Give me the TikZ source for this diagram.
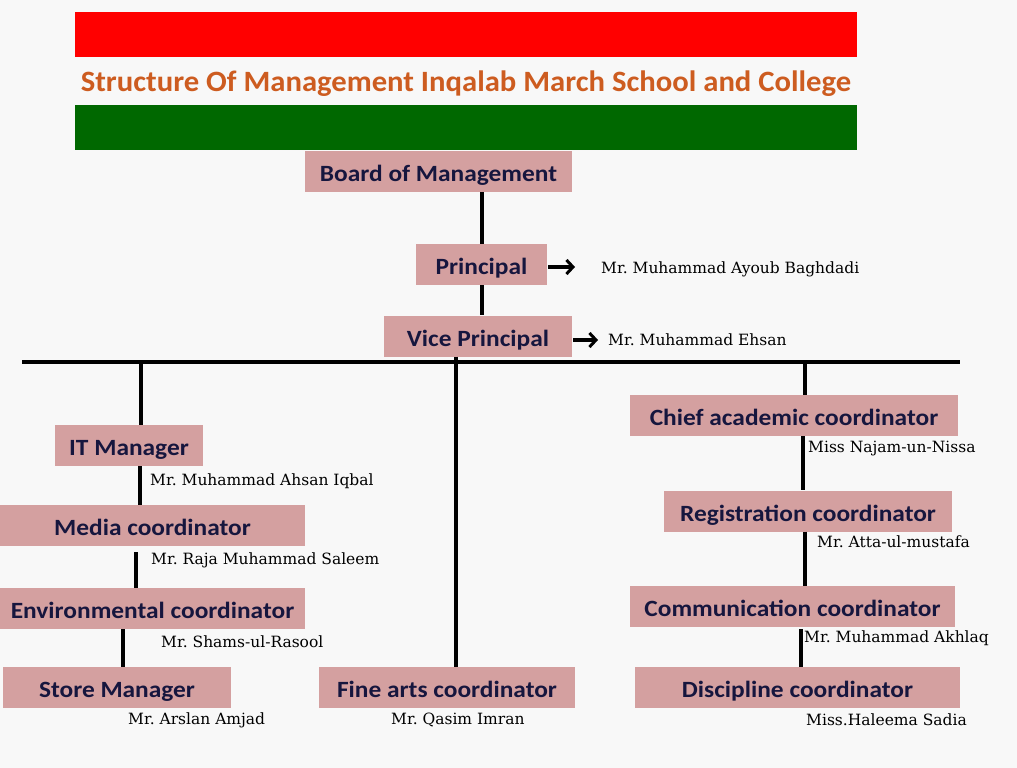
\documentclass[tikz,border=0pt]{standalone}
\usepackage{fontspec}
\usetikzlibrary{arrows.meta}
\setmainfont{DejaVu Serif}
\newfontfamily\boxfont{Carlito}[FakeStretch=1.09]
\newfontfamily\titlefont{Carlito}[FakeStretch=1.04]
\definecolor{boxpink}{RGB}{212,160,160}
\definecolor{boxtext}{RGB}{22,22,62}
\definecolor{titleorange}{RGB}{205,92,32}
\definecolor{bargreen}{RGB}{0,104,0}
\definecolor{pagegray}{RGB}{248,248,248}
\frenchspacing
\begin{document}
\begin{tikzpicture}[x=1pt,y=-1pt,
    post/.style={fill=boxpink,text=boxtext,font=\boxfont\bfseries\fontsize{23.3}{26}\selectfont,text height=30.5pt,text depth=10.5pt,inner sep=0pt},
    who/.style={anchor=west,inner sep=0pt,font=\fontsize{15.5}{18}\selectfont},
    link/.style={line width=3.6pt},
    pointer/.style={line width=3.6pt,-{Straight Barb[length=6.5pt,width=14pt,line width=3pt]}}]
    \fill[pagegray] (0,0) rectangle (1017,768);
    \fill[red] (75,12) rectangle (857,57);
    \fill[bargreen] (75,105) rectangle (857,150);
    \node[anchor=base,text=titleorange,font=\titlefont\bfseries\fontsize{29.5}{32}\selectfont] (title) at (466,91) {Structure Of Management Inqalab March School and College};
    % top of the chart
    \node[post,minimum width=267pt] (board) at (438.5,171.5) {Board of Management};
    \node[post,minimum width=131pt] (principal) at (481.5,264.5) {Principal};
    \node[post,minimum width=188pt] (vice) at (478,336) {Vice Principal};
    \node[who] (principalname) at (601,269) {Mr. Muhammad Ayoub Baghdadi};
    \node[who] (vicename) at (608,340) {Mr. Muhammad Ehsan};
    \draw[link] (board.south -| 482,0) -- (principal.north -| 482,0);
    \draw[link] (principal.south -| 482,0) -- (vice.north -| 482,0);
    \draw[pointer,shorten <=1pt,shorten >=26pt] (principal.east |- 0,267) -- (principalname.west |- 0,267);
    \draw[pointer,shorten <=1pt,shorten >=10pt] (vice.east |- vicename) -- (vicename.west);
    \coordinate (busleft) at (22,362);
    \coordinate (busright) at (960,362);
    \draw[link] (busleft) -- (busright);
    % left column
    \node[post,minimum width=148pt] (itmanager) at (129,445.5) {IT Manager};
    \node[post,minimum width=305pt] (media) at (152.5,525.5) {Media coordinator};
    \node[post,minimum width=305pt] (environment) at (152.5,608.5) {Environmental coordinator};
    \node[post,minimum width=228pt] (store) at (117,687.5) {Store Manager};
    \node[who] (itname) at (150,481) {Mr. Muhammad Ahsan Iqbal};
    \node[who] (medianame) at (151,560) {Mr. Raja Muhammad Saleem};
    \node[who] (environmentname) at (161,642) {Mr. Shams-ul-Rasool};
    \node[who] (storename) at (128,720) {Mr. Arslan Amjad};
    \draw[link] (busleft -| 141,0) -- (itmanager.north -| 141,0);
    \draw[link] (itmanager.south -| 140,0) -- (media.north -| 140,0);
    \draw[link] ([yshift=-6pt]media.south -| 136,0) -- (environment.north -| 136,0);
    \draw[link] (environment.south -| 123,0) -- (store.north -| 123,0);
    % middle column
    \node[post,minimum width=256pt] (finearts) at (447,687.5) {Fine arts coordinator};
    \node[who] (finename) at (391,720) {Mr. Qasim Imran};
    \draw[link] (vice.south -| 456,0) -- (finearts.north -| 456,0);
    % right column
    \node[post,minimum width=328pt] (chief) at (794,415.5) {Chief academic coordinator};
    \node[post,minimum width=288pt] (registration) at (808,511) {Registration coordinator};
    \node[post,minimum width=325pt] (communication) at (792.5,606.5) {Communication coordinator};
    \node[post,minimum width=325pt] (discipline) at (797.5,687.5) {Discipline coordinator};
    \node[who] (chiefname) at (808,449) {Miss Najam-un-Nissa};
    \node[who] (registrationname) at (817,542) {Mr. Atta-ul-mustafa};
    \node[who] (communicationname) at (804,638) {Mr. Muhammad Akhlaq};
    \node[who] (disciplinename) at (806,720) {Miss.Haleema Sadia};
    \draw[link] (busright -| 805,0) -- (chief.north -| 805,0);
    \draw[link] (chief.south -| 803,0) -- (registration.north -| 803,0);
    \draw[link] (registration.south -| 805,0) -- (communication.north -| 805,0);
    \draw[link] ([yshift=-2pt]communication.south -| 801,0) -- (discipline.north -| 801,0);
\end{tikzpicture}
\end{document}
